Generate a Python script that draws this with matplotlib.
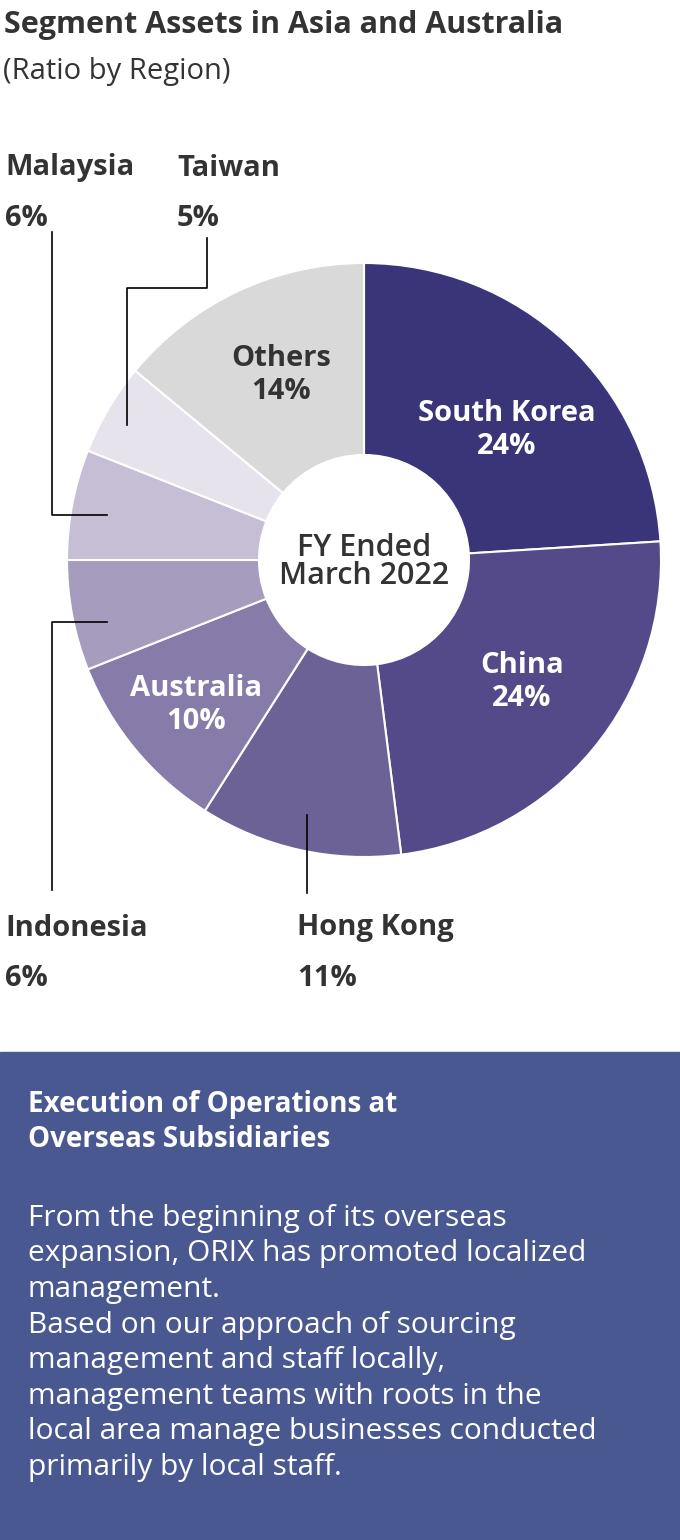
import matplotlib
matplotlib.use("Agg")
import matplotlib.pyplot as plt
from matplotlib.patches import Rectangle

plt.rcParams['font.family'] = ['Open Sans', 'Noto Sans', 'DejaVu Sans']

regions = ["South Korea", "China", "Hong Kong", "Australia", "Indonesia", "Malaysia", "Taiwan", "Others"]
shares = [24, 24, 11, 10, 6, 6, 5, 14]
colors = ["#3a3478", "#544a89", "#6c6296", "#877ca9", "#a69cbe", "#c5bed4", "#e6e3ed", "#d9d9d9"]

W, H = 680, 1540
fig = plt.figure(figsize=(6.8, 15.4), dpi=100)
ax = fig.add_axes([0, 0, 1, 1])
Y = lambda py: H - py

cx, cy, R, r = 364, 560, 297, 105
ax.pie(shares, colors=colors, startangle=90, counterclock=False,
       center=(cx, Y(cy)), radius=R, frame=True,
       wedgeprops=dict(width=R - r, edgecolor='white', linewidth=1.5))
ax.set_xlim(0, W); ax.set_ylim(0, H); ax.set_aspect('equal'); ax.axis('off')

dark = "#333333"
ax.text(4, Y(25), "Segment Assets in Asia and Australia", fontsize=22, fontweight='bold', color=dark, va='center')
ax.text(3, Y(72), "(Ratio by Region)", fontsize=21, color=dark, va='center')

def inner(x, y, name, val, c):
    ax.text(x, Y(y), f"{name}\n{val}%", ha='center', va='center', fontsize=21, fontweight='bold',
            color=c, linespacing=1.2)
inner(507, 430, regions[0], shares[0], 'white')
inner(522, 682, regions[1], shares[1], 'white')
inner(196, 705, regions[3], shares[3], 'white')
inner(281, 375, regions[7], shares[7], dark)
ax.text(cx, Y(562), "FY Ended\nMarch 2022", ha='center', va='center', fontsize=22, fontweight='semibold',
        color=dark, linespacing=0.95)

def outer(x, y, name, val):
    ax.text(x, Y(y), name, fontsize=21, fontweight='bold', color=dark, va='center')
    ax.text(x, Y(y + 50), f"{val}%", fontsize=21, fontweight='bold', color=dark, va='center')
outer(5, 168, regions[5], shares[5])
outer(177, 168, regions[6], shares[6])
outer(5, 928, regions[4], shares[4])
outer(297, 928, regions[2], shares[2])

lk = dict(color='black', lw=1.2)
ax.plot([52, 52, 107], [Y(232), Y(515), Y(515)], **lk)
ax.plot([207, 207, 127, 127], [Y(238), Y(288), Y(288), Y(425)], **lk)
ax.plot([52, 52, 107], [Y(890), Y(622), Y(622)], **lk)
ax.plot([307, 307], [Y(815), Y(893)], **lk)

ax.add_patch(Rectangle((0, 0), W, H - 1052, color="#4a5892"))
ax.text(28, Y(1122), "Execution of Operations at\nOverseas Subsidiaries", fontsize=20, fontweight='bold',
        color='white', va='center', linespacing=1.25)
body = ("From the beginning of its overseas\nexpansion, ORIX has promoted localized\nmanagement.\n"
        "Based on our approach of sourcing\nmanagement and staff locally,\nmanagement teams with roots in the\n"
        "local area manage businesses conducted\nprimarily by local staff.")
ax.text(28, Y(1343), body, fontsize=21.5, color='white', va='center', linespacing=1.3)

fig.savefig("out.png", dpi=100)
